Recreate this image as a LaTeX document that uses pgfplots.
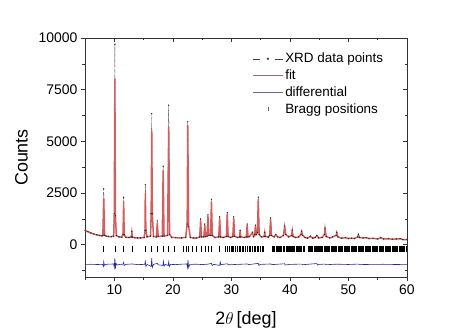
\documentclass[border=0pt]{standalone}
\usepackage{pgfplots}
\pgfplotsset{compat=1.18}
\usepackage{fontspec}
\setmainfont{Liberation Sans}
\definecolor{fitred}{RGB}{210,95,95}
\definecolor{diffblue}{RGB}{40,40,150}
\definecolor{legfit}{RGB}{150,110,110}
\definecolor{legdiff}{RGB}{100,100,150}
\begin{document}
\begin{tikzpicture}
\useasboundingbox (-85bp,-54bp) rectangle (389bp,277bp);
\begin{axis}[
  at={(0,0)}, anchor=south west,
  scale only axis, width=322bp, height=239bp,
  xmin=5, xmax=60, ymin=-1560, ymax=10000,
  axis x line*=bottom, axis y line*=left,
  axis line style={black!80, line width=0.6pt},
  tick align=outside, tick style={black!80, line width=0.6pt},
  major tick length=4bp, minor tick length=2.5bp,
  xtick={10,20,...,60}, minor xtick={5,15,...,55},
  ytick={0,2500,5000,7500,10000}, minor ytick={-1250,1250,3750,6250,8750},
  scaled y ticks=false,
  /pgf/number format/.cd, 1000 sep={}, assume math mode=true, /pgfplots/.cd,
  ticklabel style={font=\fontsize{14}{16}\selectfont},
  xlabel={2$\theta$\,[deg]}, ylabel={Counts},
  label style={font=\fontsize{18}{20}\selectfont},
  xlabel style={yshift=-10bp},
  ylabel style={yshift=4bp},
  legend style={at={(0.517,0.95)}, anchor=north west, draw=none, fill=none,
    font=\fontsize{13.5}{15}\selectfont, row sep=1.5bp, inner sep=1bp},
  legend cell align=left,
  legend image code/.code={\draw[mark repeat=2,mark phase=2,#1] plot coordinates {(0bp,0bp) (15bp,0bp) (30bp,0bp)};},
]
% XRD data
\addplot[forget plot, black!85, densely dashdotted, line width=0.35pt, mark=*, mark size=0.45pt, mark options={solid}] coordinates {
(5,700)(5.5,630)(6,570)(6.5,520)(7,480)(7.5,450)(7.9,430)(8.05,450)(8.2,2700)(8.35,460)(8.6,420)(9,400)(9.5,390)(9.9,420)(10.0,1500)(10.1,9700)(10.2,1400)(10.35,450)(10.8,380)(11.3,370)(11.5,500)(11.6,2300)(11.7,480)(12,360)(12.5,350)(12.9,380)(13.0,650)(13.1,370)(13.5,340)(14,330)(14.5,330)(15.1,350)(15.25,700)(15.3,2900)(15.4,700)(15.6,380)(16.2,420)(16.3,1500)(16.4,6350)(16.5,1500)(16.7,400)(17.2,380)(17.35,1150)(17.5,400)(18.2,420)(18.35,3800)(18.5,420)(19.1,450)(19.3,6750)(19.45,500)(19.8,360)(20.5,340)(21.5,330)(22.2,360)(22.45,1000)(22.55,5950)(22.7,900)(23,350)(23.5,330)(24,320)(24.6,380)(24.75,1250)(24.9,380)(25.3,380)(25.45,1000)(25.6,400)(25.85,420)(26.0,1450)(26.15,450)(26.45,450)(26.6,2200)(26.75,450)(27.2,350)(27.85,380)(28.0,1350)(28.15,380)(28.6,350)(29.15,400)(29.3,1550)(29.45,400)(29.9,350)(30.25,400)(30.4,1350)(30.55,420)(31.0,350)(31.4,380)(31.5,700)(31.6,380)(32.2,350)(32.55,380)(32.7,1000)(32.85,380)(33.1,400)(33.6,600)(33.8,400)(34.0,500)(34.1,950)(34.25,500)(34.45,600)(34.6,2300)(34.75,500)(35.1,380)(35.6,400)(35.7,600)(35.8,400)(36.3,370)(36.55,450)(36.7,1300)(36.85,450)(37.3,380)(37.6,500)(37.9,380)(38.3,350)(38.9,450)(39.1,900)(39.3,500)(39.8,380)(40.3,450)(40.4,700)(40.55,400)(41.0,350)(41.5,380)(41.9,500)(42.0,650)(42.2,450)(42.6,350)(43.0,320)(43.5,420)(43.9,320)(44.3,350)(44.6,450)(44.9,330)(45.5,350)(45.9,500)(46.0,800)(46.2,400)(46.8,330)(47.3,380)(47.9,450)(48.0,600)(48.2,380)(48.8,320)(49.5,350)(50.0,300)(50.5,320)(51.0,300)(51.6,380)(51.7,500)(51.9,350)(52.5,330)(53.0,350)(53.5,300)(54.2,310)(55.0,280)(55.5,350)(56.0,280)(56.8,290)(57.5,270)(58.2,280)(58.8,300)(59.3,250)(60,250)
};
% fit
\addplot[forget plot, fitred, line width=1.5pt] coordinates {
(5,700)(5.5,630)(6,570)(6.5,520)(7,480)(7.5,450)(7.9,430)(8.05,450)(8.2,2250)(8.35,460)(8.6,420)(9,400)(9.5,390)(9.9,420)(10.0,1500)(10.1,8050)(10.2,1400)(10.35,450)(10.8,380)(11.3,370)(11.5,500)(11.6,2100)(11.7,480)(12,360)(12.5,350)(12.9,380)(13.0,600)(13.1,370)(13.5,340)(14,330)(14.5,330)(15.1,350)(15.25,700)(15.3,2500)(15.4,700)(15.6,380)(16.2,420)(16.3,1500)(16.4,5500)(16.5,1500)(16.7,400)(17.2,380)(17.35,1050)(17.5,400)(18.2,420)(18.35,3600)(18.5,420)(19.1,450)(19.3,5700)(19.45,500)(19.8,360)(20.5,340)(21.5,330)(22.2,360)(22.45,1000)(22.55,5800)(22.7,900)(23,350)(23.5,330)(24,320)(24.6,380)(24.75,1200)(24.9,380)(25.3,380)(25.45,950)(25.6,400)(25.85,420)(26.0,1400)(26.15,450)(26.45,450)(26.6,2100)(26.75,450)(27.2,350)(27.85,380)(28.0,1300)(28.15,380)(28.6,350)(29.15,400)(29.3,1500)(29.45,400)(29.9,350)(30.25,400)(30.4,1300)(30.55,420)(31.0,350)(31.4,380)(31.5,680)(31.6,380)(32.2,350)(32.55,380)(32.7,950)(32.85,380)(33.1,400)(33.6,580)(33.8,400)(34.0,500)(34.1,900)(34.25,500)(34.45,600)(34.6,2200)(34.75,500)(35.1,380)(35.6,400)(35.7,580)(35.8,400)(36.3,370)(36.55,450)(36.7,1250)(36.85,450)(37.3,380)(37.6,480)(37.9,380)(38.3,350)(38.9,450)(39.1,870)(39.3,500)(39.8,380)(40.3,450)(40.4,680)(40.55,400)(41.0,350)(41.5,380)(41.9,500)(42.0,630)(42.2,450)(42.6,350)(43.0,320)(43.5,400)(43.9,320)(44.3,350)(44.6,440)(44.9,330)(45.5,350)(45.9,500)(46.0,770)(46.2,400)(46.8,330)(47.3,380)(47.9,450)(48.0,580)(48.2,380)(48.8,320)(49.5,340)(50.0,300)(50.5,320)(51.0,300)(51.6,380)(51.7,480)(51.9,350)(52.5,330)(53.0,340)(53.5,300)(54.2,310)(55.0,280)(55.5,340)(56.0,280)(56.8,290)(57.5,270)(58.2,280)(58.8,290)(59.3,250)(60,250)
};
% differential
\addplot[forget plot, diffblue, line width=0.6pt] coordinates {
(5,-950)(6,-945)(7,-955)(8,-950)(8.15,-1050)(8.2,-830)(8.3,-1000)(8.5,-950)(9,-940)(9.9,-930)(10.0,-1100)(10.1,-650)(10.2,-1150)(10.3,-900)(10.5,-980)(11,-950)(11.5,-940)(11.6,-850)(11.7,-1000)(12,-950)(13,-930)(14,-960)(15.2,-950)(15.3,-800)(15.4,-1050)(15.6,-950)(16.3,-1050)(16.4,-650)(16.5,-1100)(16.7,-950)(17.35,-900)(17.5,-970)(18.3,-1000)(18.4,-800)(18.5,-1030)(18.7,-950)(19.2,-1000)(19.3,-830)(19.4,-1050)(19.6,-950)(20.5,-960)(21.5,-940)(22.4,-930)(22.5,-1100)(22.6,-750)(22.7,-1100)(22.9,-950)(24,-940)(25,-960)(26,-940)(26.6,-900)(26.7,-1000)(27,-950)(28.0,-1000)(28.1,-830)(28.2,-970)(28.5,-950)(29.3,-920)(29.5,-970)(31,-950)(32.7,-930)(33,-960)(34.6,-900)(34.7,-1000)(35,-950)(36.7,-930)(37,-960)(39.1,-920)(39.2,-980)(40,-950)(42,-935)(42.2,-965)(44.6,-910)(44.7,-980)(45,-950)(46,-935)(46.2,-965)(48,-940)(50,-955)(51.7,-935)(52,-960)(54,-950)(56,-945)(58,-955)(60,-950)
};
% Bragg positions
\addplot[forget plot, black, only marks, mark=|, mark size=2.8pt, mark options={line width=0.5pt}] coordinates {
(8.2,-200)(10.1,-200)(11.6,-200)(13.0,-200)(15.3,-200)(16.4,-200)(17.4,-200)(18.4,-200)(19.3,-200)(20.3,-200)(21.8,-200)(22.3,-200)(22.6,-200)(23.3,-200)(24.0,-200)(24.8,-200)(25.5,-200)(26.0,-200)(26.6,-200)(28.0,-200)
(29.0,-200)(29.3,-200)(29.6,-200)(29.9,-200)(30.2,-200)(30.4,-200)(30.7,-200)(31.0,-200)(31.3,-200)(31.5,-200)(31.8,-200)(32.1,-200)(32.4,-200)(32.7,-200)(33.0,-200)(33.3,-200)(33.6,-200)(33.9,-200)(34.1,-200)(34.4,-200)(34.6,-200)(34.9,-200)(35.2,-200)(35.5,-200)
(37.0,-200)(37.2,-200)(37.4,-200)(37.6,-200)(37.8,-200)(38.0,-200)(38.2,-200)(38.4,-200)(38.6,-200)(38.8,-200)(39.0,-200)(39.1,-200)(39.3,-200)(39.5,-200)(39.7,-200)(39.9,-200)(40.1,-200)(40.3,-200)(40.4,-200)(40.6,-200)(40.8,-200)(41.0,-200)(41.2,-200)(41.4,-200)(41.6,-200)(41.8,-200)(42.0,-200)(42.2,-200)(42.4,-200)
(43.1,-200)(43.3,-200)(43.5,-200)(43.7,-200)(43.9,-200)(44.1,-200)(44.3,-200)(44.5,-200)(44.6,-200)(44.8,-200)(45.0,-200)(45.2,-200)(45.4,-200)(45.6,-200)(45.8,-200)(46.0,-200)(46.2,-200)(46.4,-200)(46.6,-200)(46.8,-200)(47.0,-200)(47.2,-200)(47.4,-200)(47.6,-200)(47.8,-200)(48.0,-200)(48.2,-200)(48.4,-200)(48.6,-200)(48.8,-200)(49.0,-200)(49.2,-200)(49.4,-200)(49.6,-200)(49.8,-200)(50.0,-200)(50.2,-200)(50.4,-200)(50.6,-200)(50.8,-200)(51.0,-200)(51.2,-200)(51.4,-200)(51.6,-200)(51.8,-200)(52.0,-200)(52.2,-200)(52.4,-200)(52.6,-200)(52.8,-200)(53.0,-200)(53.2,-200)(53.4,-200)(53.6,-200)(53.8,-200)(54.0,-200)(54.2,-200)(54.4,-200)(54.6,-200)(54.8,-200)(55.0,-200)(55.2,-200)(55.4,-200)(55.6,-200)(55.8,-200)(56.0,-200)(56.2,-200)(56.4,-200)(56.6,-200)(56.8,-200)(57.0,-200)(57.2,-200)(57.4,-200)(57.6,-200)(57.8,-200)(58.0,-200)(58.2,-200)(58.4,-200)(58.6,-200)(58.8,-200)(59.0,-200)(59.2,-200)(59.4,-200)(59.6,-200)(59.8,-200)
};
\addlegendimage{black!75, line width=0.5pt, dash pattern=on 7.5bp off 15bp on 7.5bp, mark=*, mark size=0.9pt, mark options={solid, fill=black}}
\addlegendentry{XRD data points}
\addlegendimage{legfit, line width=0.6pt}
\addlegendentry{fit}
\addlegendimage{legdiff, line width=0.6pt}
\addlegendentry{differential}
\addlegendimage{black!60, only marks, mark=|, mark size=2.2pt, mark options={line width=0.4pt}}
\addlegendentry{Bragg positions}
\end{axis}
\begin{axis}[
  at={(0,0)}, anchor=south west,
  scale only axis, width=322bp, height=239bp,
  xmin=5, xmax=60, ymin=-1560, ymax=10000,
  axis x line*=top, axis y line*=right,
  axis line style={black!80, line width=0.6pt},
  tick align=inside, tick style={black!80, line width=0.6pt},
  major tick length=4bp, minor tick length=2.5bp,
  xtick={10,20,...,60}, minor xtick={5,15,...,55},
  ytick={0,2500,5000,7500,10000}, minor ytick={-1250,1250,3750,6250,8750},
  scaled y ticks=false, scaled x ticks=false,
  xticklabels={}, yticklabels={},
]
\end{axis}
\end{tikzpicture}
\end{document}
